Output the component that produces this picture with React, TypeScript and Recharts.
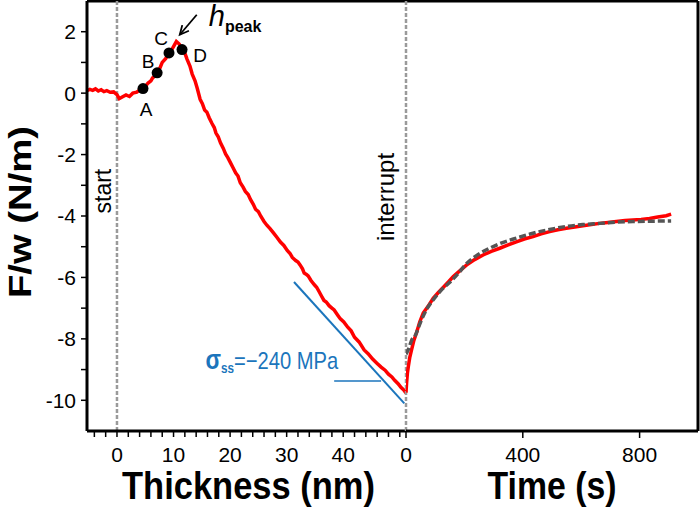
import React from "react";
import {
  ComposedChart,
  Line,
  Scatter,
  XAxis,
  YAxis,
  ReferenceLine,
  ReferenceDot,
  Label,
} from "recharts";

// Film growth: deposited thickness (nm) vs. force per width (N/m)
const thickness = [
  -5.3, -4.8, -4.3, -3.8, -3.3, -2.8, -2.3, -1.8, -1.2, -0.6, 0, 0.4, 1, 1.6,
  2.2, 2.8, 3.5, 4.0, 4.6, 5.1, 5.5, 6.0, 6.3, 6.7, 7.1, 7.6, 8.0, 8.6, 9.2,
  9.8, 10.5, 11.0, 11.5, 12.0, 12.4, 12.9, 13.3, 13.8, 14.2, 14.7, 15.1, 15.5,
  15.9, 16.3, 16.8, 17.2, 17.5, 17.9, 18.3, 18.8, 19.2, 19.6, 20.1, 20.5, 21.0,
  21.4, 21.8, 22.3, 22.7, 23.2, 23.6, 24.1, 24.5, 25.0, 25.4, 26.0, 26.5, 27.1,
  27.7, 28.3, 28.9, 29.5, 30.1, 30.6, 31.0, 31.6, 32.0, 32.4, 32.8, 33.1, 33.5,
  33.8, 34.3, 34.9, 35.3, 35.7, 36.2, 36.6, 37.0, 37.5, 38.0, 38.4, 39.0, 39.5,
  40.1, 40.8, 41.4, 42.0, 42.8, 43.7, 44.4, 45.2, 46.0, 46.7, 47.4, 48.0, 48.6,
  49.1, 49.7, 50.2, 50.7, 51.1,
];
const growthForce = [
  0.08, 0.12, 0.09, 0.14, 0.07, 0.11, 0.05, 0.08, 0.03, 0.04, -0.05, -0.18,
  -0.12, -0.06, -0.11, 0.0, 0.03, 0.1, 0.15, 0.24, 0.33, 0.4, 0.5, 0.56, 0.66,
  0.82, 1.0, 1.12, 1.31, 1.45, 1.68, 1.6, 1.42, 1.3, 1.1, 0.88, 0.62, 0.4, 0.15,
  -0.2, -0.34, -0.55, -0.62, -0.8, -0.99, -1.12, -1.3, -1.42, -1.62, -1.8,
  -1.98, -2.1, -2.28, -2.42, -2.6, -2.7, -2.92, -3.06, -3.2, -3.3, -3.46, -3.62,
  -3.78, -3.86, -4.0, -4.18, -4.3, -4.42, -4.56, -4.7, -4.85, -4.96, -5.12,
  -5.22, -5.35, -5.45, -5.5, -5.6, -5.72, -5.86, -5.9, -5.95, -6.1, -6.24,
  -6.32, -6.45, -6.62, -6.75, -6.8, -6.92, -7.0, -7.06, -7.22, -7.35, -7.45,
  -7.62, -7.74, -7.95, -8.1, -8.36, -8.48, -8.66, -8.8, -8.92, -9.02, -9.15,
  -9.24, -9.35, -9.46, -9.58, -9.66, -9.76,
];

// Growth interrupted: time (s) vs. force per width (N/m)
const time = [
  0, 2, 5, 8, 13, 19, 27, 36, 47, 59, 75, 93, 110, 128, 145, 162, 185, 207, 235,
  264, 292, 321, 350, 378, 405, 435, 463, 492, 520, 549, 578, 606, 635, 663,
  692, 720, 750, 777, 805, 834, 862, 891, 908,
];
const relaxForce = [
  -9.75, -9.44, -9.1, -8.9, -8.6, -8.36, -8.05, -7.8, -7.45, -7.16, -6.95,
  -6.68, -6.5, -6.32, -6.15, -5.97, -5.78, -5.6, -5.42, -5.27, -5.15, -5.05,
  -4.94, -4.84, -4.75, -4.67, -4.58, -4.51, -4.45, -4.4, -4.36, -4.32, -4.28,
  -4.24, -4.21, -4.18, -4.15, -4.13, -4.11, -4.08, -4.03, -3.99, -3.94,
];

// Relaxation fit
const fitTime = [
  0, 10, 19, 31, 50, 70, 93, 120, 150, 178, 207, 240, 280, 321, 378, 435, 492,
  549, 606, 663, 720, 777, 840, 908,
];
const fitForce = [
  -8.5, -8.3, -8.05, -7.9, -7.45, -7.05, -6.73, -6.42, -6.16, -5.88, -5.55,
  -5.3, -5.08, -4.9, -4.72, -4.56, -4.44, -4.34, -4.28, -4.24, -4.2, -4.18,
  -4.17, -4.16,
];

// Marked points on the growth curve
const markNames = ["A", "B", "C", "D"];
const markThickness = [4.6, 7.1, 9.2, 11.5];
const markForce = [0.15, 0.66, 1.31, 1.42];
const peak = { t: 11.1, v: 1.9 };

// Steady-state slope guide
const slopeStart = { t: 31.3, v: -6.15 };
const slopeEnd = { t: 50.8, v: -10.1 };
const slopeMarkStart = 38.4;
const slopeMarkEnd = 46.7;
const slopeMarkForce = -9.37;

// Axes
const thicknessDomain = [-5.3, 51.1];
const timeDomain = [0, 1000];
const forceDomain = [-11, 3];
const thicknessTicks = [
  -4, -2, 0, 2, 4, 6, 8, 10, 12, 14, 16, 18, 20, 22, 24, 26, 28, 30, 32, 34, 36,
  38, 40, 42, 44, 46, 48, 50,
];
const thicknessLabels = [0, 10, 20, 30, 40];
const timeTicks = [0, 400, 800];
const forceTicks = [-10, -9, -8, -7, -6, -5, -4, -3, -2, -1, 0, 1, 2];
const forceLabels = [-10, -8, -6, -4, -2, 0, 2];

const growthData = thickness.map((t, i) => ({ t, v: growthForce[i] }));
const relaxData = time.map((s, i) => ({ s, v: relaxForce[i] }));
const fitData = fitTime.map((s, i) => ({ s, v: fitForce[i] }));
const markData = markNames.map((name, i) => ({
  name,
  t: markThickness[i],
  v: markForce[i],
}));

const FONT = "'Liberation Sans', Arial, Helvetica, sans-serif";
const RED = "#ff0000";
const BLUE = "#1b75bc";
const GUIDE = "#9a9a9a";
const W = 700;
const H = 508;
const SPLIT = 406;
const OVERLAP = 30; // room for the "0" time label left of the split
const PLOT_BOTTOM = 77;

const tickStyle = { fontSize: 21, fill: "#000", fontFamily: FONT };
const axisLine = { stroke: "#000", strokeWidth: 3 };
const tickLine = { stroke: "#000", strokeWidth: 1.5 };

// label offsets around each marker
const markLabelOffset: Record<string, [number, number]> = {
  A: [3, 27],
  B: [-9, -5],
  C: [-8, -8],
  D: [18, 12],
};

const centerOf = (props: any) => {
  const vb = props.viewBox || {};
  return {
    cx: (vb.x ?? 0) + (vb.width ?? 0) / 2,
    cy: (vb.y ?? 0) + (vb.height ?? 0) / 2,
  };
};

const MarkShape = (props: any) => {
  const { cx, cy, payload } = props;
  const [dx, dy] = markLabelOffset[payload.name];
  return (
    <g>
      <circle cx={cx} cy={cy} r={5.5} fill="#000" />
      <text
        x={cx + dx}
        y={cy + dy}
        textAnchor="middle"
        fontSize={19}
        fontFamily={FONT}
        fill="#000"
      >
        {payload.name}
      </text>
    </g>
  );
};

const PeakLabel = (props: any) => {
  const { cx, cy } = centerOf(props);
  const tx = cx + 17;
  const ty = cy - 20;
  const ang = Math.atan2(ty - cy, tx - cx);
  const head = 10;
  const spread = 0.45;
  return (
    <g>
      <line x1={cx} y1={cy} x2={tx} y2={ty} stroke="#000" strokeWidth={1.8} />
      <polyline
        points={`${cx + head * Math.cos(ang - spread)},${cy + head * Math.sin(ang - spread)} ${cx},${cy} ${cx + head * Math.cos(ang + spread)},${cy + head * Math.sin(ang + spread)}`}
        fill="none"
        stroke="#000"
        strokeWidth={1.8}
      />
      <text x={cx + 29} y={cy - 9} fontFamily={FONT} fill="#000">
        <tspan fontSize={29} fontStyle="italic">
          h
        </tspan>
        <tspan fontSize={16} fontWeight="bold" dy={6}>
          peak
        </tspan>
      </text>
    </g>
  );
};

const StartLabel = (props: any) => {
  const { cx, cy } = centerOf(props);
  return (
    <text
      x={cx}
      y={cy}
      transform={`rotate(-90 ${cx} ${cy})`}
      textAnchor="middle"
      fontSize={23}
      fontFamily={FONT}
      fill="#000"
    >
      start
    </text>
  );
};

const InterruptLabel = (props: any) => {
  const { cx, cy } = centerOf(props);
  return (
    <text
      x={cx}
      y={cy}
      transform={`rotate(-90 ${cx} ${cy})`}
      textAnchor="middle"
      fontSize={24}
      fontFamily={FONT}
      fill="#000"
    >
      interrupt
    </text>
  );
};

// condensed blue stress label, right-aligned just past the guide's left end
const SigmaLabel = (props: any) => {
  const { cx, cy } = centerOf(props);
  return (
    <g transform={`translate(${cx + 4} ${cy - 12}) scale(0.84 1)`}>
      <text x={0} y={0} textAnchor="end" fontFamily={FONT} fill={BLUE}>
        <tspan fontSize={27} fontWeight="bold">
          σ
        </tspan>
        <tspan fontSize={14} fontWeight="bold" dy={4}>
          ss
        </tspan>
        <tspan fontSize={24} dy={-4}>
          =−240 MPa
        </tspan>
      </text>
    </g>
  );
};

const axisTitle = (text: string, length: number, shift: number) => (props: any) => {
  const vb = props.viewBox || {};
  const x = (vb.x ?? 0) + (vb.width ?? 0) / 2 + shift;
  const y = (vb.y ?? 0) + 68;
  return (
    <text
      x={x}
      y={y}
      textAnchor="middle"
      fontSize={38}
      fontWeight="bold"
      fontFamily={FONT}
      fill="#000"
      textLength={length}
      lengthAdjust="spacingAndGlyphs"
    >
      {text}
    </text>
  );
};

const ForceTitle = (props: any) => {
  const vb = props.viewBox || {};
  const x = 31;
  const y = (vb.y ?? 0) + (vb.height ?? 0) / 2 - 4;
  return (
    <text
      x={x}
      y={y}
      transform={`rotate(-90 ${x} ${y})`}
      textAnchor="middle"
      fontSize={31}
      fontWeight="bold"
      fontFamily={FONT}
      fill="#000"
      textLength={172}
      lengthAdjust="spacingAndGlyphs"
    >
      F/w (N/m)
    </text>
  );
};

const GrowthPanel = () => (
  <ComposedChart
    width={SPLIT}
    height={H}
    data={growthData}
    margin={{ top: 1, right: 0, bottom: 0, left: 0 }}
  >
    <XAxis
      dataKey="t"
      type="number"
      domain={thicknessDomain}
      allowDataOverflow
      ticks={thicknessTicks}
      interval={0}
      tickFormatter={(t: number) => (thicknessLabels.includes(t) ? String(t) : "")}
      tick={tickStyle}
      tickSize={6}
      tickMargin={10}
      axisLine={axisLine}
      tickLine={tickLine}
      height={PLOT_BOTTOM}
      label={<Label content={axisTitle("Thickness (nm)", 253, 2)} />}
    />
    <YAxis
      type="number"
      domain={forceDomain}
      allowDataOverflow
      ticks={forceTicks}
      interval={0}
      tickFormatter={(v: number) => (forceLabels.includes(v) ? String(v) : "")}
      tick={tickStyle}
      tickSize={6}
      tickMargin={5}
      axisLine={axisLine}
      tickLine={tickLine}
      width={87}
      label={<Label content={ForceTitle} />}
    />
    <ReferenceLine y={3} stroke="#000" strokeWidth={3} />
    <ReferenceLine x={0} stroke={GUIDE} strokeWidth={2.5} strokeDasharray="4 2" />
    <ReferenceLine
      segment={[
        { x: slopeStart.t, y: slopeStart.v },
        { x: slopeEnd.t, y: slopeEnd.v },
      ]}
      stroke={BLUE}
      strokeWidth={2}
    />
    <ReferenceLine
      segment={[
        { x: slopeMarkStart, y: slopeMarkForce },
        { x: slopeMarkEnd, y: slopeMarkForce },
      ]}
      stroke={BLUE}
      strokeWidth={1.5}
    />
    <Line
      dataKey="v"
      stroke={RED}
      strokeWidth={3.5}
      dot={false}
      isAnimationActive={false}
      type="linear"
    />
    <Scatter
      data={markData}
      dataKey="v"
      shape={MarkShape}
      isAnimationActive={false}
    />
    <ReferenceDot
      x={peak.t}
      y={peak.v}
      r={1}
      fill="none"
      stroke="none"
      label={<Label content={PeakLabel} />}
    />
    <ReferenceDot
      x={-1.1}
      y={-3.19}
      r={1}
      fill="none"
      stroke="none"
      label={<Label content={StartLabel} />}
    />
    <ReferenceDot
      x={48.9}
      y={-3.38}
      r={1}
      fill="none"
      stroke="none"
      label={<Label content={InterruptLabel} />}
    />
    <ReferenceDot
      x={slopeMarkStart}
      y={slopeMarkForce}
      r={1}
      fill="none"
      stroke="none"
      label={<Label content={SigmaLabel} />}
    />
  </ComposedChart>
);

const RelaxPanel = () => (
  <ComposedChart
    width={W - SPLIT + OVERLAP}
    height={H}
    data={relaxData}
    margin={{ top: 1, right: 2, bottom: 0, left: OVERLAP }}
  >
    <XAxis
      dataKey="s"
      type="number"
      domain={timeDomain}
      allowDataOverflow
      ticks={timeTicks}
      interval={0}
      tick={tickStyle}
      tickSize={7}
      tickMargin={9}
      axisLine={axisLine}
      tickLine={tickLine}
      height={PLOT_BOTTOM}
      label={<Label content={axisTitle("Time (s)", 129, 0)} />}
    />
    <YAxis hide type="number" domain={forceDomain} allowDataOverflow />
    <ReferenceLine y={3} stroke="#000" strokeWidth={3} />
    <ReferenceLine x={1000} stroke="#000" strokeWidth={3} />
    <ReferenceLine x={0} stroke={GUIDE} strokeWidth={2.5} strokeDasharray="4 2" />
    <Line
      dataKey="v"
      stroke={RED}
      strokeWidth={3.5}
      dot={false}
      isAnimationActive={false}
      type="linear"
    />
    <Line
      data={fitData}
      dataKey="v"
      stroke="#555555"
      strokeWidth={3.5}
      strokeDasharray="7 3"
      dot={false}
      isAnimationActive={false}
      type="monotone"
    />
  </ComposedChart>
);

export default function App() {
  return (
    <div
      style={{
        position: "absolute",
        left: 0,
        top: 0,
        width: W,
        height: H,
        background: "#fff",
        fontFamily: FONT,
      }}
    >
      <div style={{ position: "absolute", left: 0, top: 0 }}>
        <GrowthPanel />
      </div>
      <div style={{ position: "absolute", left: SPLIT - OVERLAP, top: 0 }}>
        <RelaxPanel />
      </div>
    </div>
  );
}
